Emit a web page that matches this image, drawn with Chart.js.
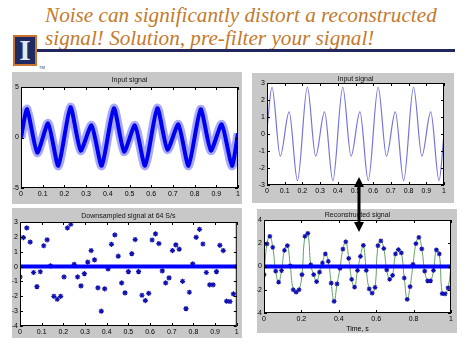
<!DOCTYPE html>
<html><head><meta charset="utf-8">
<script src="https://cdn.jsdelivr.net/npm/chart.js@4.4.1/dist/chart.umd.min.js"></script>
<style>
html,body{margin:0;padding:0;background:#fff;width:474px;height:355px;overflow:hidden;}
#wrap{position:relative;width:474px;height:355px;}
.t{position:absolute;left:45px;font-family:'Liberation Serif','Times New Roman',serif;font-style:italic;font-size:21.2px;line-height:21px;color:#c47a2c;white-space:nowrap;}
canvas{position:absolute;}
#rule{position:absolute;left:37px;top:49px;width:418px;height:3px;background:#22265c;}
#logo{position:absolute;left:13px;top:35px;width:24px;height:31px;box-sizing:border-box;border:2px solid #c8742e;background:#1f2a62;color:#e6e8f2;font-family:'Liberation Serif','DejaVu Serif',serif;font-weight:bold;font-size:29px;line-height:27px;text-align:center;}
#tm{position:absolute;left:39px;top:65px;font-family:'Liberation Sans',sans-serif;font-size:4px;color:#333;}
#arrow{position:absolute;left:350px;top:175px;z-index:5;}
</style></head>
<body><div id="wrap">
<div class="t" style="top:5px">Noise can significantly distort a reconstructed</div>
<div class="t" style="top:28px">signal! Solution, pre-filter your signal!</div>
<div id="rule"></div>
<div id="logo">I</div>
<div id="tm">TM</div>
<canvas id="c1" width="230" height="132" style="left:12px;top:72px"></canvas>
<canvas id="c2" width="230" height="130" style="left:12px;top:208px"></canvas>
<canvas id="c3" width="202" height="130" style="left:252px;top:73px"></canvas>
<canvas id="c4" width="200" height="124" style="left:257px;top:209px"></canvas>
<svg id="arrow" width="18" height="60" viewBox="0 0 18 60">
  <line x1="9" y1="9" x2="9" y2="49" stroke="#000" stroke-width="3"/>
  <polygon points="9,2 4,12 14,12" fill="#000"/>
  <polygon points="9,57 4,47 14,47" fill="#000"/>
</svg>
</div>
<script>
// ---- data ----
const inputTimes = [0,0.028,0.075,0.125,0.172,0.228,0.275,0.325,0.372,0.428,0.475,0.525,0.572,0.628,0.675,0.725,0.772,0.828,0.875,0.925,0.972,1];
const noisyInput = [0,2.8,-1.5,1.4,-2.8,3.0,-1.3,1.2,-2.8,2.9,-1.4,1.2,-2.8,2.9,-1.2,1.3,-2.8,2.8,-1.3,1.3,-2.8,0.4];
const cleanInput = [0.3,2.75,-1.3,1.3,-2.75,2.75,-1.3,1.3,-2.75,2.75,-1.3,1.3,-2.75,2.75,-1.3,1.3,-2.75,2.75,-1.3,1.3,-2.75,0];
const sampleRate = 64;
const sampleValues = [-0.7,1.95,2.6,1.65,-0.4,-1.35,-0.35,1.4,1.8,0.05,
  -2.0,-2.2,-2.0,-0.7,2.6,2.85,0.15,-0.7,-1.3,-0.48,
  0.3,1.08,0.45,-1.43,-3.0,-1.5,-0.16,1.5,2.13,0.7,
  -1.1,-1.77,-0.34,0.87,1.82,-0.34,-1.93,-2.29,-1.8,1.79,
  2.2,1.55,-0.29,-1.1,-0.76,1.08,1.46,1.17,-0.99,-2.83,
  -1.73,0.18,1.97,2.51,1.52,-0.4,-1.23,-1.23,-0.34,1.43,
  1.08,-2.33,-2.35,-1.84,0.0];
const zeroLine = [[0,0],[1,0]];
const xTicksTenth = [0,0.1,0.2,0.3,0.4,0.5,0.6,0.7,0.8,0.9,1];
const xTicksFifth = [0,0.2,0.4,0.6,0.8,1];
const yTicksNoisy = [-5,0,5];
const yTicksDown = [-4,-3,-2,-1,0,1,2,3];
const yTicksClean = [-3,-2,-1,0,1,2,3];
const yTicksRecon = [-4,-2,0,2,4];
const titles = ["Input signal","Downsampled signal at 64 S/s","Input signal","Reconstructed signal"];

// ---- helpers ----
const pts = (xs, ys) => ys.map((v,i)=>({x:xs[i], y:v}));
const sampleTimes = sampleValues.map((_,k)=>k/sampleRate);
const samplePts = pts(sampleTimes, sampleValues);
const zeroPts = zeroLine.map(p=>({x:p[0],y:p[1]}));
const FONT = {family:"'Liberation Sans', Arial, sans-serif", size:7};

const frame = {
  id:'frame',
  beforeDraw(c){
    const ctx=c.ctx, a=c.chartArea;
    ctx.save();
    ctx.fillStyle='#c8c8c8'; ctx.fillRect(0,0,c.width,c.height);
    ctx.fillStyle='#fff'; ctx.fillRect(a.left,a.top,a.right-a.left,a.bottom-a.top);
    ctx.restore();
  },
  afterDraw(c, args, o){
    const ctx=c.ctx, a=c.chartArea, xs=c.scales.x, ys=c.scales.y;
    ctx.save();
    ctx.strokeStyle='#000'; ctx.lineWidth=1;
    ctx.strokeRect(a.left+0.5,a.top+0.5,a.right-a.left-1,a.bottom-a.top-1);
    ctx.beginPath();
    xs.ticks.forEach(t=>{const p=Math.round(xs.getPixelForValue(t.value))+0.5;
      ctx.moveTo(p,a.bottom); ctx.lineTo(p,a.bottom-3); ctx.moveTo(p,a.top); ctx.lineTo(p,a.top+3);});
    ys.ticks.forEach(t=>{const p=Math.round(ys.getPixelForValue(t.value))+0.5;
      ctx.moveTo(a.left,p); ctx.lineTo(a.left+3,p); ctx.moveTo(a.right,p); ctx.lineTo(a.right-3,p);});
    ctx.stroke();
    ctx.fillStyle='#111'; ctx.font="7px 'Liberation Sans', Arial, sans-serif";
    ctx.textAlign='center'; ctx.textBaseline='middle';
    ctx.fillText(o.title,(a.left+a.right)/2,a.top/2+1);
    ctx.restore();
  }
};

function makeChart(id, panel, plot, datasets, xt, yt, xmin, xmax, ymin, ymax, title, xTitle){
  new Chart(document.getElementById(id), {
    type:'line',
    data:{datasets},
    plugins:[frame],
    options:{
      responsive:false, animation:false, devicePixelRatio:1,
      layout:{padding:{left:0,bottom:0,top:plot.t-panel.y,right:panel.x+panel.w-plot.r}},
      plugins:{legend:{display:false},tooltip:{enabled:false},frame:{title}},
      elements:{point:{radius:0}},
      scales:{
        x:{type:'linear',min:xmin,max:xmax,
          grid:{display:false,drawTicks:false},border:{display:false},
          afterBuildTicks:s=>{s.ticks=xt.map(v=>({value:v}));},
          afterFit:s=>{s.height=panel.y+panel.h-plot.b;},
          ticks:{font:FONT,color:'#000',padding:2,maxRotation:0,autoSkip:false,callback:v=>String(v)},
          title:xTitle?{display:true,text:xTitle,font:FONT,color:'#000',padding:{top:0,bottom:0}}:{display:false}},
        y:{type:'linear',min:ymin,max:ymax,
          grid:{display:false,drawTicks:false},border:{display:false},
          afterBuildTicks:s=>{s.ticks=yt.map(v=>({value:v}));},
          afterFit:s=>{s.width=plot.l-panel.x;},
          ticks:{font:FONT,color:'#000',padding:2,autoSkip:false,callback:v=>String(v)}}
      }
    }
  });
}

// Top-left: noisy input
makeChart('c1',{x:12,y:72,w:230,h:132},{l:21,t:87,r:238,b:188},[
  {data:pts(inputTimes,noisyInput),borderColor:'#0000f0',borderWidth:4,tension:0.2},
  {data:pts(inputTimes,noisyInput),borderColor:'rgba(40,40,240,0.4)',borderWidth:9,tension:0.2}
], xTicksTenth, yTicksNoisy, 0,1,-5,5, titles[0]);

// Bottom-left: downsampled
makeChart('c2',{x:12,y:208,w:230,h:130},{l:20,t:222,r:238,b:326},[
  {data:zeroPts,borderColor:'#0000ff',borderWidth:4},
  {data:samplePts,showLine:false,pointStyle:'star',pointRadius:2.6,borderColor:'#1010b0',pointBorderWidth:1.2}
], xTicksTenth, yTicksDown, 0,1,-4,3, titles[1]);

// Top-right: clean input
makeChart('c3',{x:252,y:73,w:202,h:130},{l:267,t:83,r:444,b:185},[
  {data:pts(inputTimes,cleanInput),borderColor:'#7373dc',borderWidth:1.2,cubicInterpolationMode:'monotone'}
], xTicksTenth, yTicksClean, 0,1,-3,3, titles[2]);

// Bottom-right: reconstructed
makeChart('c4',{x:257,y:209,w:200,h:124},{l:264,t:220,r:451,b:313},[
  {data:zeroPts,borderColor:'#0000ff',borderWidth:4},
  {data:samplePts,showLine:false,pointStyle:'star',pointRadius:2.4,borderColor:'#1010b0',pointBorderWidth:1.1},
  {data:samplePts,borderColor:'#62a262',borderWidth:1,tension:0.45}
], xTicksFifth, yTicksRecon, 0,1,-4,4, titles[3], 'Time, s');
</script>
</body></html>
